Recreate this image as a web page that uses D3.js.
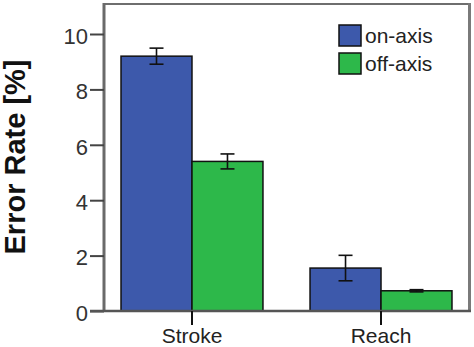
<!DOCTYPE html>
<html>
<head>
<meta charset="utf-8">
<script src="https://cdn.jsdelivr.net/npm/d3@7"></script>
<style>
  html, body { margin: 0; padding: 0; background: #fff; }
  svg { display: block; }
</style>
</head>
<body>
<svg id="chart" width="474" height="347"></svg>
<script>
// Error rates per task, split by stroke direction
const categories = ["Stroke", "Reach"];
const seriesNames = ["on-axis", "off-axis"];
const onAxis = [9.2, 1.55];
const offAxis = [5.4, 0.73];
const onAxisErr = [0.29, 0.46];
const offAxisErr = [0.27, 0.04];
const yTicks = [0, 2, 4, 6, 8, 10];
const colors = ["#3D59AB", "#2DB84A"];

const svg = d3.select("#chart");
const margin = { left: 104, right: 5, top: 3, bottom: 36 };
const W = 474;
const FONT = "Liberation Sans, Arial, sans-serif";

const x0 = d3.scaleBand().domain(categories)
  .range([margin.left, W - margin.right]).paddingInner(0.249).paddingOuter(0.09);
const x1 = d3.scaleBand().domain(seriesNames).range([0, x0.bandwidth()]);
const y = d3.scaleLinear().domain([0, 10]).range([311, 34]);

const rows = categories.map((c, i) => ({
  cat: c,
  vals: [
    { s: seriesNames[0], v: onAxis[i], e: onAxisErr[i], col: colors[0] },
    { s: seriesNames[1], v: offAxis[i], e: offAxisErr[i], col: colors[1] }
  ]
}));

// plot frame (top and right)
svg.append("line").attr("x1", margin.left).attr("x2", W - margin.right + 1)
  .attr("y1", margin.top + 1).attr("y2", margin.top + 1)
  .attr("stroke", "#6e6e6e").attr("stroke-width", 2);
svg.append("line").attr("x1", W - margin.right + 0.5).attr("x2", W - margin.right + 0.5)
  .attr("y1", margin.top).attr("y2", y(0))
  .attr("stroke", "#7a7a7a").attr("stroke-width", 3);

// bars
const g = svg.selectAll("g.cat").data(rows).join("g")
  .attr("class", "cat").attr("transform", d => `translate(${x0(d.cat)},0)`);
g.selectAll("rect").data(d => d.vals).join("rect")
  .attr("x", d => x1(d.s)).attr("width", x1.bandwidth())
  .attr("y", d => y(d.v)).attr("height", d => y(0) - y(d.v))
  .attr("fill", d => d.col).attr("stroke", "#111").attr("stroke-width", 1.5);

// error bars
const eb = g.selectAll("g.err").data(d => d.vals).join("g").attr("class", "err")
  .attr("transform", d => `translate(${x1(d.s) + x1.bandwidth() / 2},0)`);
eb.append("line").attr("y1", d => y(d.v + d.e)).attr("y2", d => y(d.v - d.e))
  .attr("stroke", "#111").attr("stroke-width", 1.6);
eb.append("line").attr("x1", -7).attr("x2", 7)
  .attr("y1", d => y(d.v + d.e)).attr("y2", d => y(d.v + d.e))
  .attr("stroke", "#111").attr("stroke-width", 1.6);
eb.append("line").attr("x1", -7).attr("x2", 7)
  .attr("y1", d => y(d.v - d.e)).attr("y2", d => y(d.v - d.e))
  .attr("stroke", "#111").attr("stroke-width", 1.6);

// y axis
const yAxis = svg.append("g").attr("transform", `translate(${margin.left},0)`)
  .call(d3.axisLeft(y).tickValues(yTicks).tickSize(14).tickPadding(2).tickFormat(d3.format("d")));
yAxis.select(".domain").attr("stroke", "#6a6a6a").attr("stroke-width", 3)
  .attr("d", `M0,${margin.top}V${y(0)}`);
yAxis.selectAll(".tick line").attr("stroke", "#444").attr("stroke-width", 2);
yAxis.selectAll(".tick text").attr("fill", "#333").attr("dy", "0.42em")
  .style("font-family", FONT).style("font-size", "22px");

// x axis
const xAxis = svg.append("g").attr("transform", `translate(0,${y(0)})`)
  .call(d3.axisBottom(x0).tickSize(14).tickPadding(3));
xAxis.select(".domain").attr("stroke", "#555").attr("stroke-width", 2.5)
  .attr("d", `M${margin.left - 14},0H${W - margin.right + 2}`);
xAxis.selectAll(".tick line").attr("stroke", "#111").attr("stroke-width", 2);
xAxis.selectAll(".tick text").attr("fill", "#222")
  .style("font-family", FONT).style("font-size", "21px");

// y axis title
svg.append("text").attr("transform", "translate(25,157) rotate(-90)")
  .attr("text-anchor", "middle").attr("fill", "#111")
  .style("font-family", FONT)
  .style("font-weight", "bold").style("font-size", "29px")
  .text("Error Rate [%]");

// legend
const leg = svg.append("g").attr("transform", "translate(339,25)");
const li = leg.selectAll("g").data(seriesNames).join("g")
  .attr("transform", (d, i) => `translate(0,${i * 28})`);
li.append("rect").attr("width", 22).attr("height", 21)
  .attr("fill", (d, i) => colors[i]).attr("stroke", "#111").attr("stroke-width", 1.5);
li.append("text").attr("x", 26).attr("y", 18).text(d => d)
  .attr("fill", "#222")
  .style("font-family", FONT).style("font-size", "21px");
</script>
</body>
</html>
